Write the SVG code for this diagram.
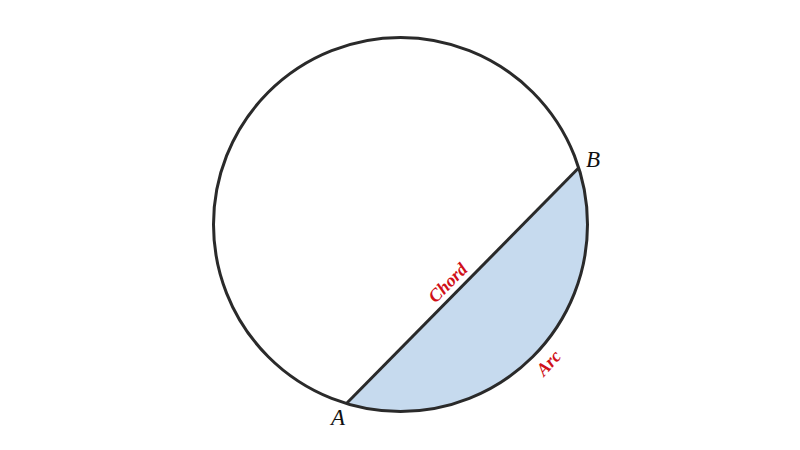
<svg xmlns="http://www.w3.org/2000/svg" width="800" height="450" viewBox="0 0 800 450">
<style>
.ln{fill:none;stroke:#2a2a2a;stroke-width:3;stroke-linejoin:round}
.lbl{font-family:"Liberation Serif","DejaVu Serif",serif;font-style:italic;fill:#111}
.red{font-family:"Liberation Serif","DejaVu Serif",serif;font-style:italic;font-weight:bold;fill:#d01018;font-size:18px}
</style>
<rect width="800" height="450" fill="#fff"/>
<g id="segment">
<path d="M346.7,403.3 L578.3,168.3 A187,187 0 0 1 346.7,403.3 Z" fill="#c6daee" stroke="none"/>
</g>
<g id="circle">
<circle class="ln" cx="400.5" cy="224.5" r="187"/>
</g>
<g id="connectors">
<line class="ln" x1="346.7" y1="403.3" x2="578.3" y2="168.3"/>
</g>
<g id="labels">
<text class="lbl" x="338" y="425" font-size="23" text-anchor="middle">A</text>
<text class="lbl" x="593" y="167" font-size="23" text-anchor="middle">B</text>
<text class="red" x="452" y="287" text-anchor="middle" transform="rotate(-45.4 452 287)">Chord</text>
<text class="red" x="553" y="367" text-anchor="middle" transform="rotate(-48 553 367)">Arc</text>
</g>
</svg>
